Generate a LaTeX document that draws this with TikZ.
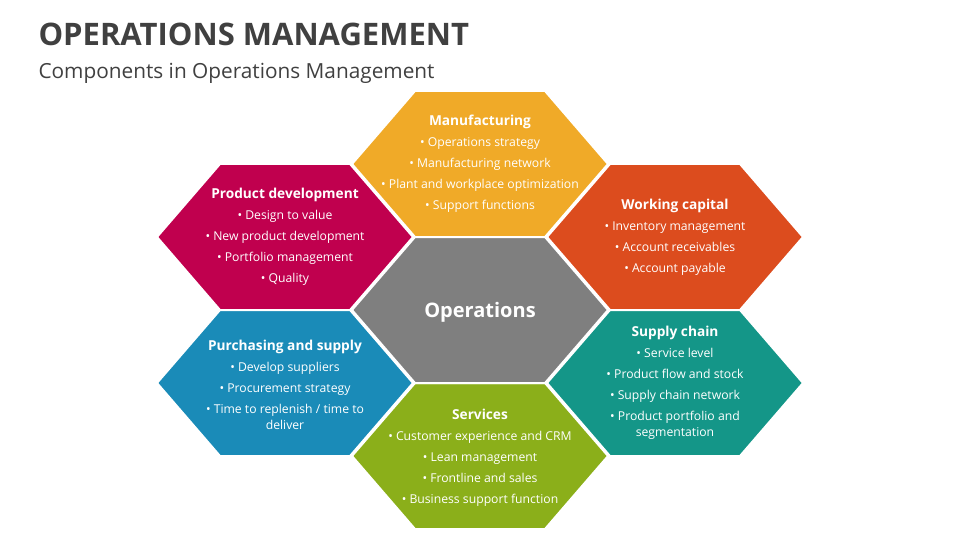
\documentclass[tikz,border=0pt]{standalone}
\usepackage{fontspec}
\setmainfont{Open Sans}
\definecolor{cman}{HTML}{F0AA28}
\definecolor{cprod}{HTML}{C0004E}
\definecolor{cwork}{HTML}{DC4C1E}
\definecolor{cpur}{HTML}{1A8BB8}
\definecolor{csup}{HTML}{149688}
\definecolor{cser}{HTML}{8BAF1A}
\definecolor{cops}{HTML}{7F7F7F}
\definecolor{ctitle}{HTML}{404040}
\newcommand{\hdfont}{\bfseries\fontsize{13.7}{21}\selectfont}
\begin{document}
\begin{tikzpicture}[x=1pt,y=-1pt,
  hexfill/.style={draw=white,line width=2pt,line join=miter},
  hextext/.style={text=white,align=center,font=\fontsize{12.2}{21}\selectfont}]
\useasboundingbox (0,0) rectangle (960,540);
\fill[white] (0,0) rectangle (960,540);
\newcommand{\hexat}[3]{\fill[#3,hexfill] (#1-128,#2) -- (#1-65,#2-73) -- (#1+65,#2-73) -- (#1+128,#2) -- (#1+65,#2+73) -- (#1-65,#2+73) -- cycle;}
\hexat{480}{164}{cman}
\hexat{285}{237}{cprod}
\hexat{675}{237}{cwork}
\hexat{285}{383}{cpur}
\hexat{675}{383}{csup}
\hexat{480}{456}{cser}
\hexat{480}{310}{cops}
\node[anchor=west,font=\bfseries\fontsize{31}{36}\selectfont,text=ctitle] (title) at (35,34) {OPERATIONS MANAGEMENT};
\node[anchor=west,font=\fontsize{20.8}{24}\selectfont,text=ctitle] (sub) at (35,73) {Components in Operations Management};
\node[text=white,font=\bfseries\fontsize{20}{24}\selectfont] (ops) at (480,312) {Operations};
\node[hextext] (man) at (480,164) {{\hdfont Manufacturing}\\• Operations strategy\\• Manufacturing network\\• Plant and workplace optimization\\• Support functions};
\node[hextext] (prod) at (285,237) {{\hdfont Product development}\\• Design to value\\• New product development\\• Portfolio management\\• Quality};
\node[hextext] (work) at (675,237) {{\hdfont Working capital}\\• Inventory management\\• Account receivables\\• Account payable};
\node[hextext] (pur) at (285,385) {{\hdfont Purchasing and supply}\\• Develop suppliers\\• Procurement strategy\\• Time to replenish / time to\\[-5pt] deliver};
\node[hextext] (sup) at (675,383) {{\hdfont Supply chain}\\• Service level\\• Product flow and stock\\• Supply chain network\\• Product portfolio and\\[-5pt] segmentation};
\node[hextext] (ser) at (480,458) {{\hdfont Services}\\• Customer experience and CRM\\• Lean management\\• Frontline and sales\\• Business support function};
\end{tikzpicture}
\end{document}
